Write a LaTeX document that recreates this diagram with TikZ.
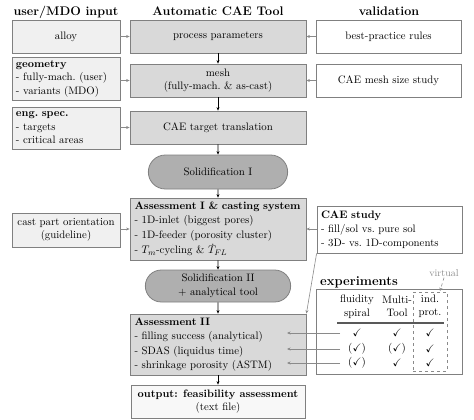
\documentclass[tikz,border=0pt]{standalone}
\usepackage{amssymb}
\usetikzlibrary{arrows.meta,shapes.misc}
\definecolor{bordc}{HTML}{808080}
\definecolor{lfill}{HTML}{F0F0F0}
\definecolor{mfill}{HTML}{D9D9D9}
\definecolor{sfill}{HTML}{AFAFAF}
\definecolor{ofill}{HTML}{F8F8F8}
\definecolor{arrc}{HTML}{8A8A8A}
\begin{document}
\begin{tikzpicture}[x=1pt,y=-1pt,
  font=\fontsize{10.8}{13.5}\selectfont,
  box/.style={draw=bordc, line width=0.8pt, inner ysep=1pt, minimum height=33pt},
  lbox/.style={box, fill=lfill, minimum width=108pt},
  ltext/.style={lbox, text width=100pt, inner xsep=4pt, align=left},
  mbox/.style={box, fill=mfill, minimum width=176pt},
  mtext/.style={box, fill=mfill, text width=167pt, inner xsep=4.5pt, align=left,
     font=\fontsize{10.8}{14.3}\selectfont},
  rbox/.style={box, fill=white, minimum width=145pt},
  solidbox/.style={rounded rectangle, draw=bordc, line width=0.8pt, fill=sfill,
     inner ysep=1pt, align=center, font=\fontsize{10.8}{14}\selectfont},
  hdr/.style={font=\fontsize{12.5}{14}\selectfont\bfseries, anchor=base},
  garrow/.style={draw=arrc, line width=0.6pt, -{Stealth[length=3.5pt,width=3pt]}},
  barrow/.style={draw=black, line width=0.6pt, -{Stealth[length=3.5pt,width=3pt]}},
  cell/.style={align=center, inner sep=0pt}
]
\useasboundingbox (0,0) rectangle (474,420);

% headers
\node[hdr] (h1) at (66,16) {user/MDO input};
\node[hdr] (h2) at (218,16) {Automatic CAE Tool};
\node[hdr] (h3) at (389,16) {validation};

% left column
\node[lbox] (alloy) at (66,36.5) {alloy};
\node[ltext, minimum height=43pt] (geom) at (66,78.5)
  {\textbf{geometry}\\- fully-mach.\ (user)\\- variants (MDO)};
\node[ltext, minimum height=42pt] (eng) at (66,128)
  {\textbf{eng.\ spec.}\\- targets\\- critical areas};
\node[lbox, align=center, minimum height=34pt] (cast) at (66,230)
  {cast part orientation\\(guideline)};

% middle column
\node[mbox] (pp) at (218,36.5) {process parameters};
\node[mbox, align=center] (mesh) at (218,80.5) {mesh\\(fully-mach.\ \& as-cast)};
\node[mbox] (tgt) at (218,127.5) {CAE target translation};
\node[solidbox, minimum width=146pt, minimum height=34pt] (s1) at (218,172) {Solidification I};
\node[mtext, minimum height=62pt] (a1) at (218,229)
  {\textbf{Assessment I \& casting system}\\- 1D-inlet (biggest pores)\\- 1D-feeder (porosity cluster)\\[1.5pt]- $T_m$-cycling \& $\dot{T}_{FL}$};
\node[solidbox, minimum width=152pt, minimum height=32pt] (s2) at (218,286)
  {Solidification II\\+ analytical tool};
\node[mtext, minimum height=61pt, font=\fontsize{10.8}{14.5}\selectfont] (a2) at (218,344.5)
  {\textbf{Assessment II}\\- filling success (analytical)\\- SDAS (liquidus time)\\- shrinkage porosity (ASTM)};
\node[box, fill=ofill, minimum width=174pt, align=center, minimum height=33pt] (out) at (218,401.5)
  {\textbf{output: feasibility assessment}\\(text file)};

% right column
\node[rbox] (bpr) at (388.5,36.5) {best-practice rules};
\node[rbox] (mss) at (388.5,80.5) {CAE mesh size study};
\node[box, fill=white, text width=137pt, inner xsep=4pt, align=left, minimum height=47pt,
  font=\fontsize{10.8}{14}\selectfont] (cae) at (389.5,229.5)
  {\textbf{CAE study}\\- fill/sol vs.\ pure sol\\- 3D- vs.\ 1D-components};

% experiments
\node[font=\fontsize{13}{15}\selectfont\bfseries, anchor=base west, inner sep=0pt] (explab) at (320,285) {experiments};
\node[draw=bordc, line width=0.8pt, fill=white, minimum width=146pt, minimum height=85pt, inner sep=0pt] (exp) at (389,331.5) {};
\node[draw=arrc, dashed, line width=0.7pt, minimum width=34pt, minimum height=79pt, inner sep=0pt] (dbox) at (430,331.5) {};
\node[text=arrc, font=\fontsize{10}{12}\selectfont, inner sep=1pt] (virt) at (444,273) {virtual};
\coordinate (vtip) at (440,291);
\draw[garrow, dashed] (virt.south) -- (vtip);

\node[cell] (c0a) at (357,306.5) {fluidity\\spiral};
\node[cell] (c0b) at (397,306.5) {Multi-\\Tool};
\node[cell] (c0c) at (430,306.5) {ind.\\prot.};
\coordinate (rulel) at (337,323);
\coordinate (ruler) at (444,323);
\draw[line width=1.2pt, draw=black!65] (rulel) -- (ruler);

\node[cell] (c1a) at (357,333) {$\checkmark$};
\node[cell] (c1b) at (397,333) {$\checkmark$};
\node[cell] (c1c) at (430,333) {$\checkmark$};
\node[cell] (c2a) at (357,349) {$(\checkmark)$};
\node[cell] (c2b) at (397,349) {$(\checkmark)$};
\node[cell] (c2c) at (430,349) {$\checkmark$};
\node[cell] (c3a) at (357,363) {$(\checkmark)$};
\node[cell] (c3b) at (397,363) {$\checkmark$};
\node[cell] (c3c) at (430,363) {$\checkmark$};

% middle flow arrows
\draw[barrow] (pp) -- (mesh);
\draw[barrow] (mesh) -- (tgt);
\draw[barrow] (tgt) -- (s1);
\draw[barrow] (s1) -- (a1);
\draw[barrow] (a1) -- (s2);
\draw[barrow] (s2) -- (a2);
\draw[barrow] (a2) -- (out);

% side arrows
\draw[garrow] (alloy.east |- pp.west) -- (pp.west);
\draw[garrow] (geom.east |- mesh.west) -- (mesh.west);
\draw[garrow] (eng.east |- tgt.west) -- (tgt.west);
\draw[garrow] (cast.east |- a1.west) -- (a1.west);
\draw[garrow] (bpr.west) -- (pp.east);
\draw[garrow] (mss.west) -- (mesh.east);
\draw[garrow] (cae.west |- a1.east) -- (a1.east);
\draw[garrow] (cae.south west) -- (a2.north east);

% experiment rows to assessment II
\coordinate (e1) at (340,333); \coordinate (t1) at (287,333);
\coordinate (e2) at (340,349); \coordinate (t2) at (287,349);
\coordinate (e3) at (340,363); \coordinate (t3) at (287,363);
\draw[garrow] (e1) -- (t1);
\draw[garrow] (e2) -- (t2);
\draw[garrow] (e3) -- (t3);
\end{tikzpicture}
\end{document}
